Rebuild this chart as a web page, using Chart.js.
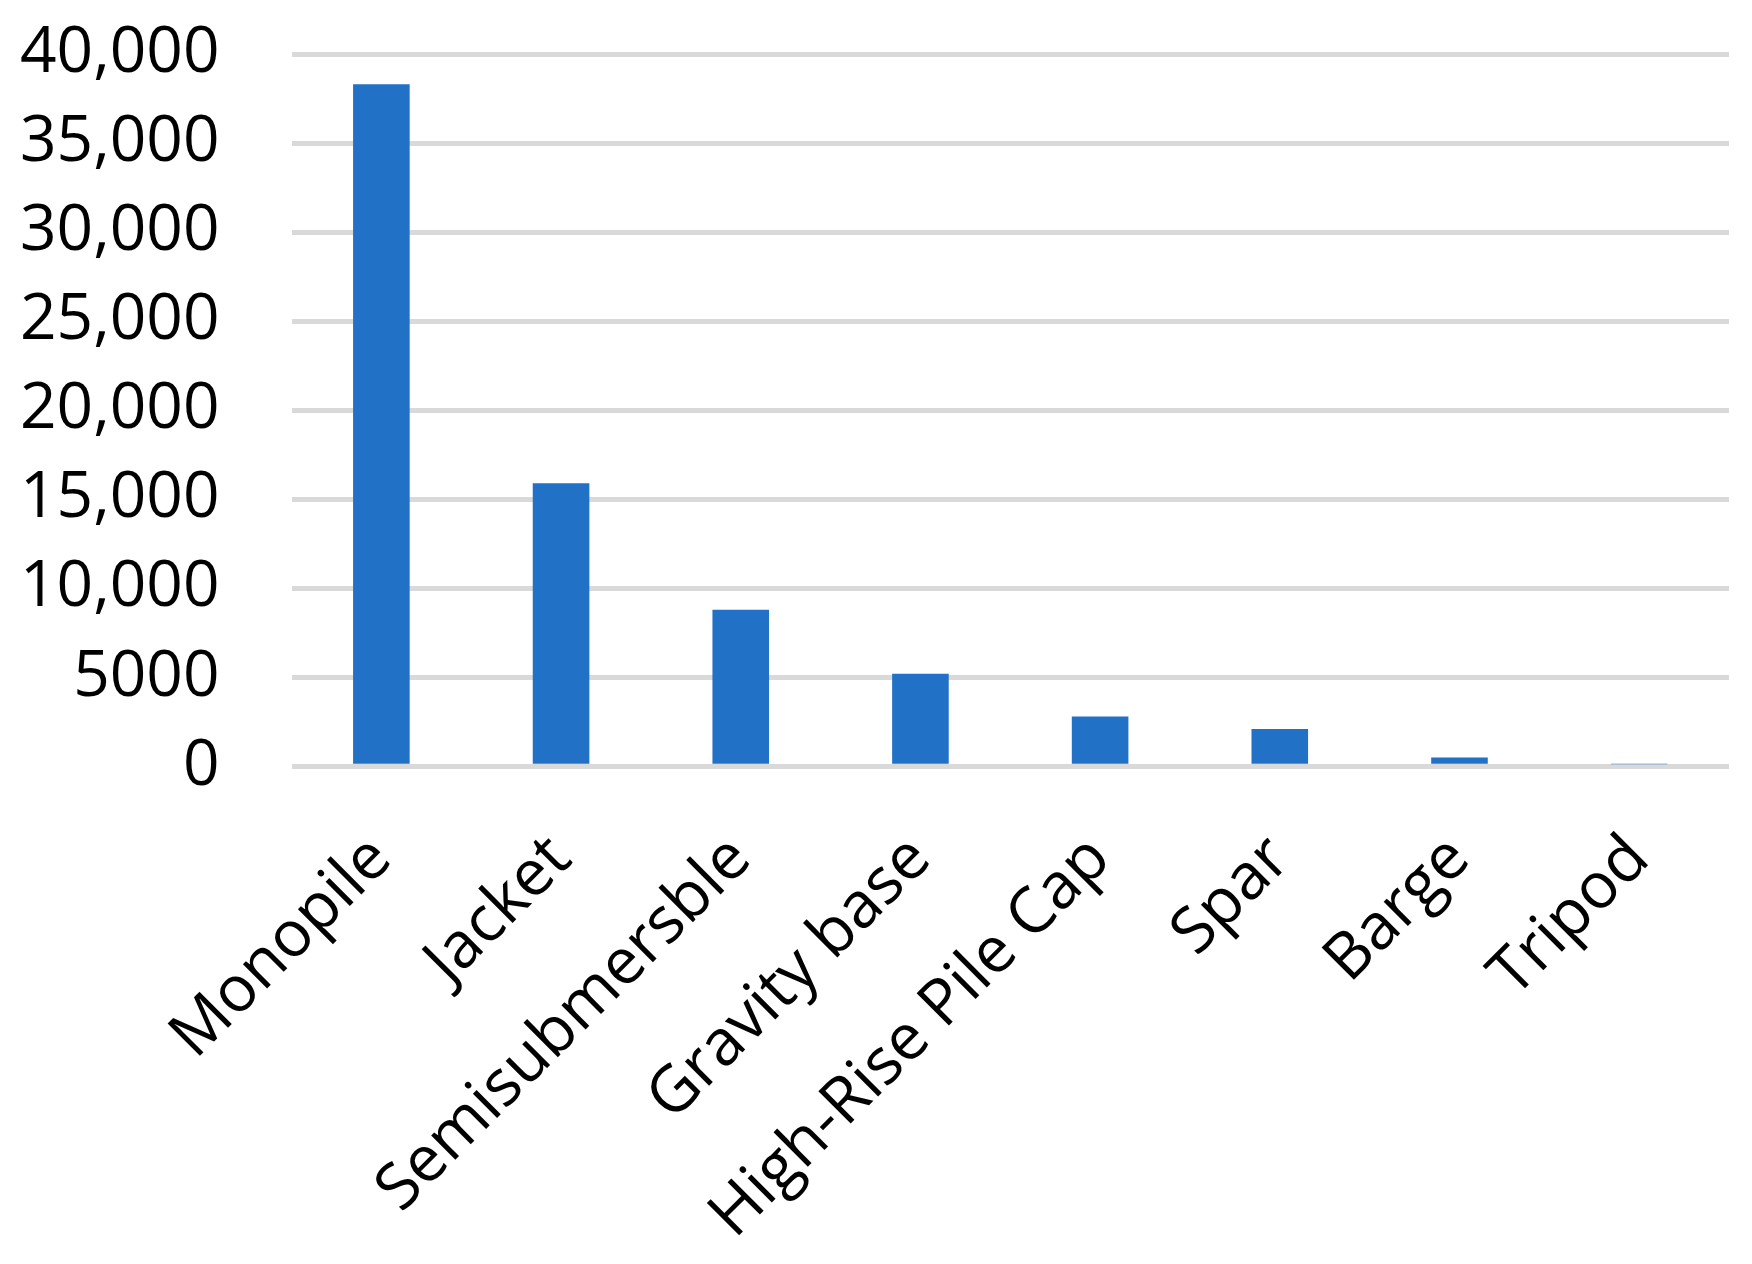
<!DOCTYPE html>
<html>
<head>
<meta charset="utf-8">
<script src="https://cdn.jsdelivr.net/npm/chart.js@4/dist/chart.umd.min.js"></script>
<style>
  html, body { margin: 0; padding: 0; background: #fff; }
  #wrap { width: 1752px; height: 1264px; position: relative; }
</style>
</head>
<body>
<div id="wrap"><canvas id="chart"></canvas></div>
<script>
// foundation types and counts
const categories = ['Monopile', 'Jacket', 'Semisubmersble', 'Gravity base',
                    'High-Rise Pile Cap', 'Spar', 'Barge', 'Tripod'];
const counts = [38300, 15900, 8800, 5200, 2800, 2100, 500, 120];

// y axis labels as printed (5000 has no comma)
const yTickLabels = ['0', '5000', '10,000', '15,000', '20,000',
                     '25,000', '30,000', '35,000', '40,000'];

const FONT = { family: '"Open Sans", sans-serif', size: 64 };

const ctx = document.getElementById('chart').getContext('2d');

// gaps between labels and plot are made with invisible tick marks,
// ticks.padding is counted twice by chart.js so it stays small
const chart = new Chart(ctx, {
    type: 'bar',
    data: {
        labels: categories,
        datasets: [{
            data: counts,
            backgroundColor: '#2171c7',
            borderWidth: 0,
            categoryPercentage: 1.0,
            barPercentage: 0.315
        }]
    },
    options: {
        animation: false,
        responsive: true,
        maintainAspectRatio: false,
        devicePixelRatio: 1,
        layout: {
            padding: { top: 54, right: 23, bottom: 7, left: 17 }
        },
        plugins: {
            legend: { display: false },
            tooltip: { enabled: false }
        },
        scales: {
            x: {
                grid: {
                    display: true,
                    drawOnChartArea: false,
                    drawTicks: true,
                    tickLength: 52,
                    tickColor: 'rgba(0,0,0,0)'
                },
                border: { display: false },
                ticks: {
                    color: '#000',
                    font: FONT,
                    autoSkip: false,
                    minRotation: 45,
                    maxRotation: 45,
                    padding: 3
                }
            },
            y: {
                min: 0,
                max: 40000,
                border: { display: false },
                grid: {
                    color: '#d9d9d9',
                    lineWidth: 5,
                    drawTicks: true,
                    tickLength: 69,
                    tickColor: 'rgba(0,0,0,0)'
                },
                ticks: {
                    stepSize: 5000,
                    autoSkip: false,
                    color: '#000',
                    font: FONT,
                    padding: 3,
                    callback: (v) => yTickLabels[Math.round(v / 5000)]
                }
            }
        }
    }
});
</script>
</body>
</html>
